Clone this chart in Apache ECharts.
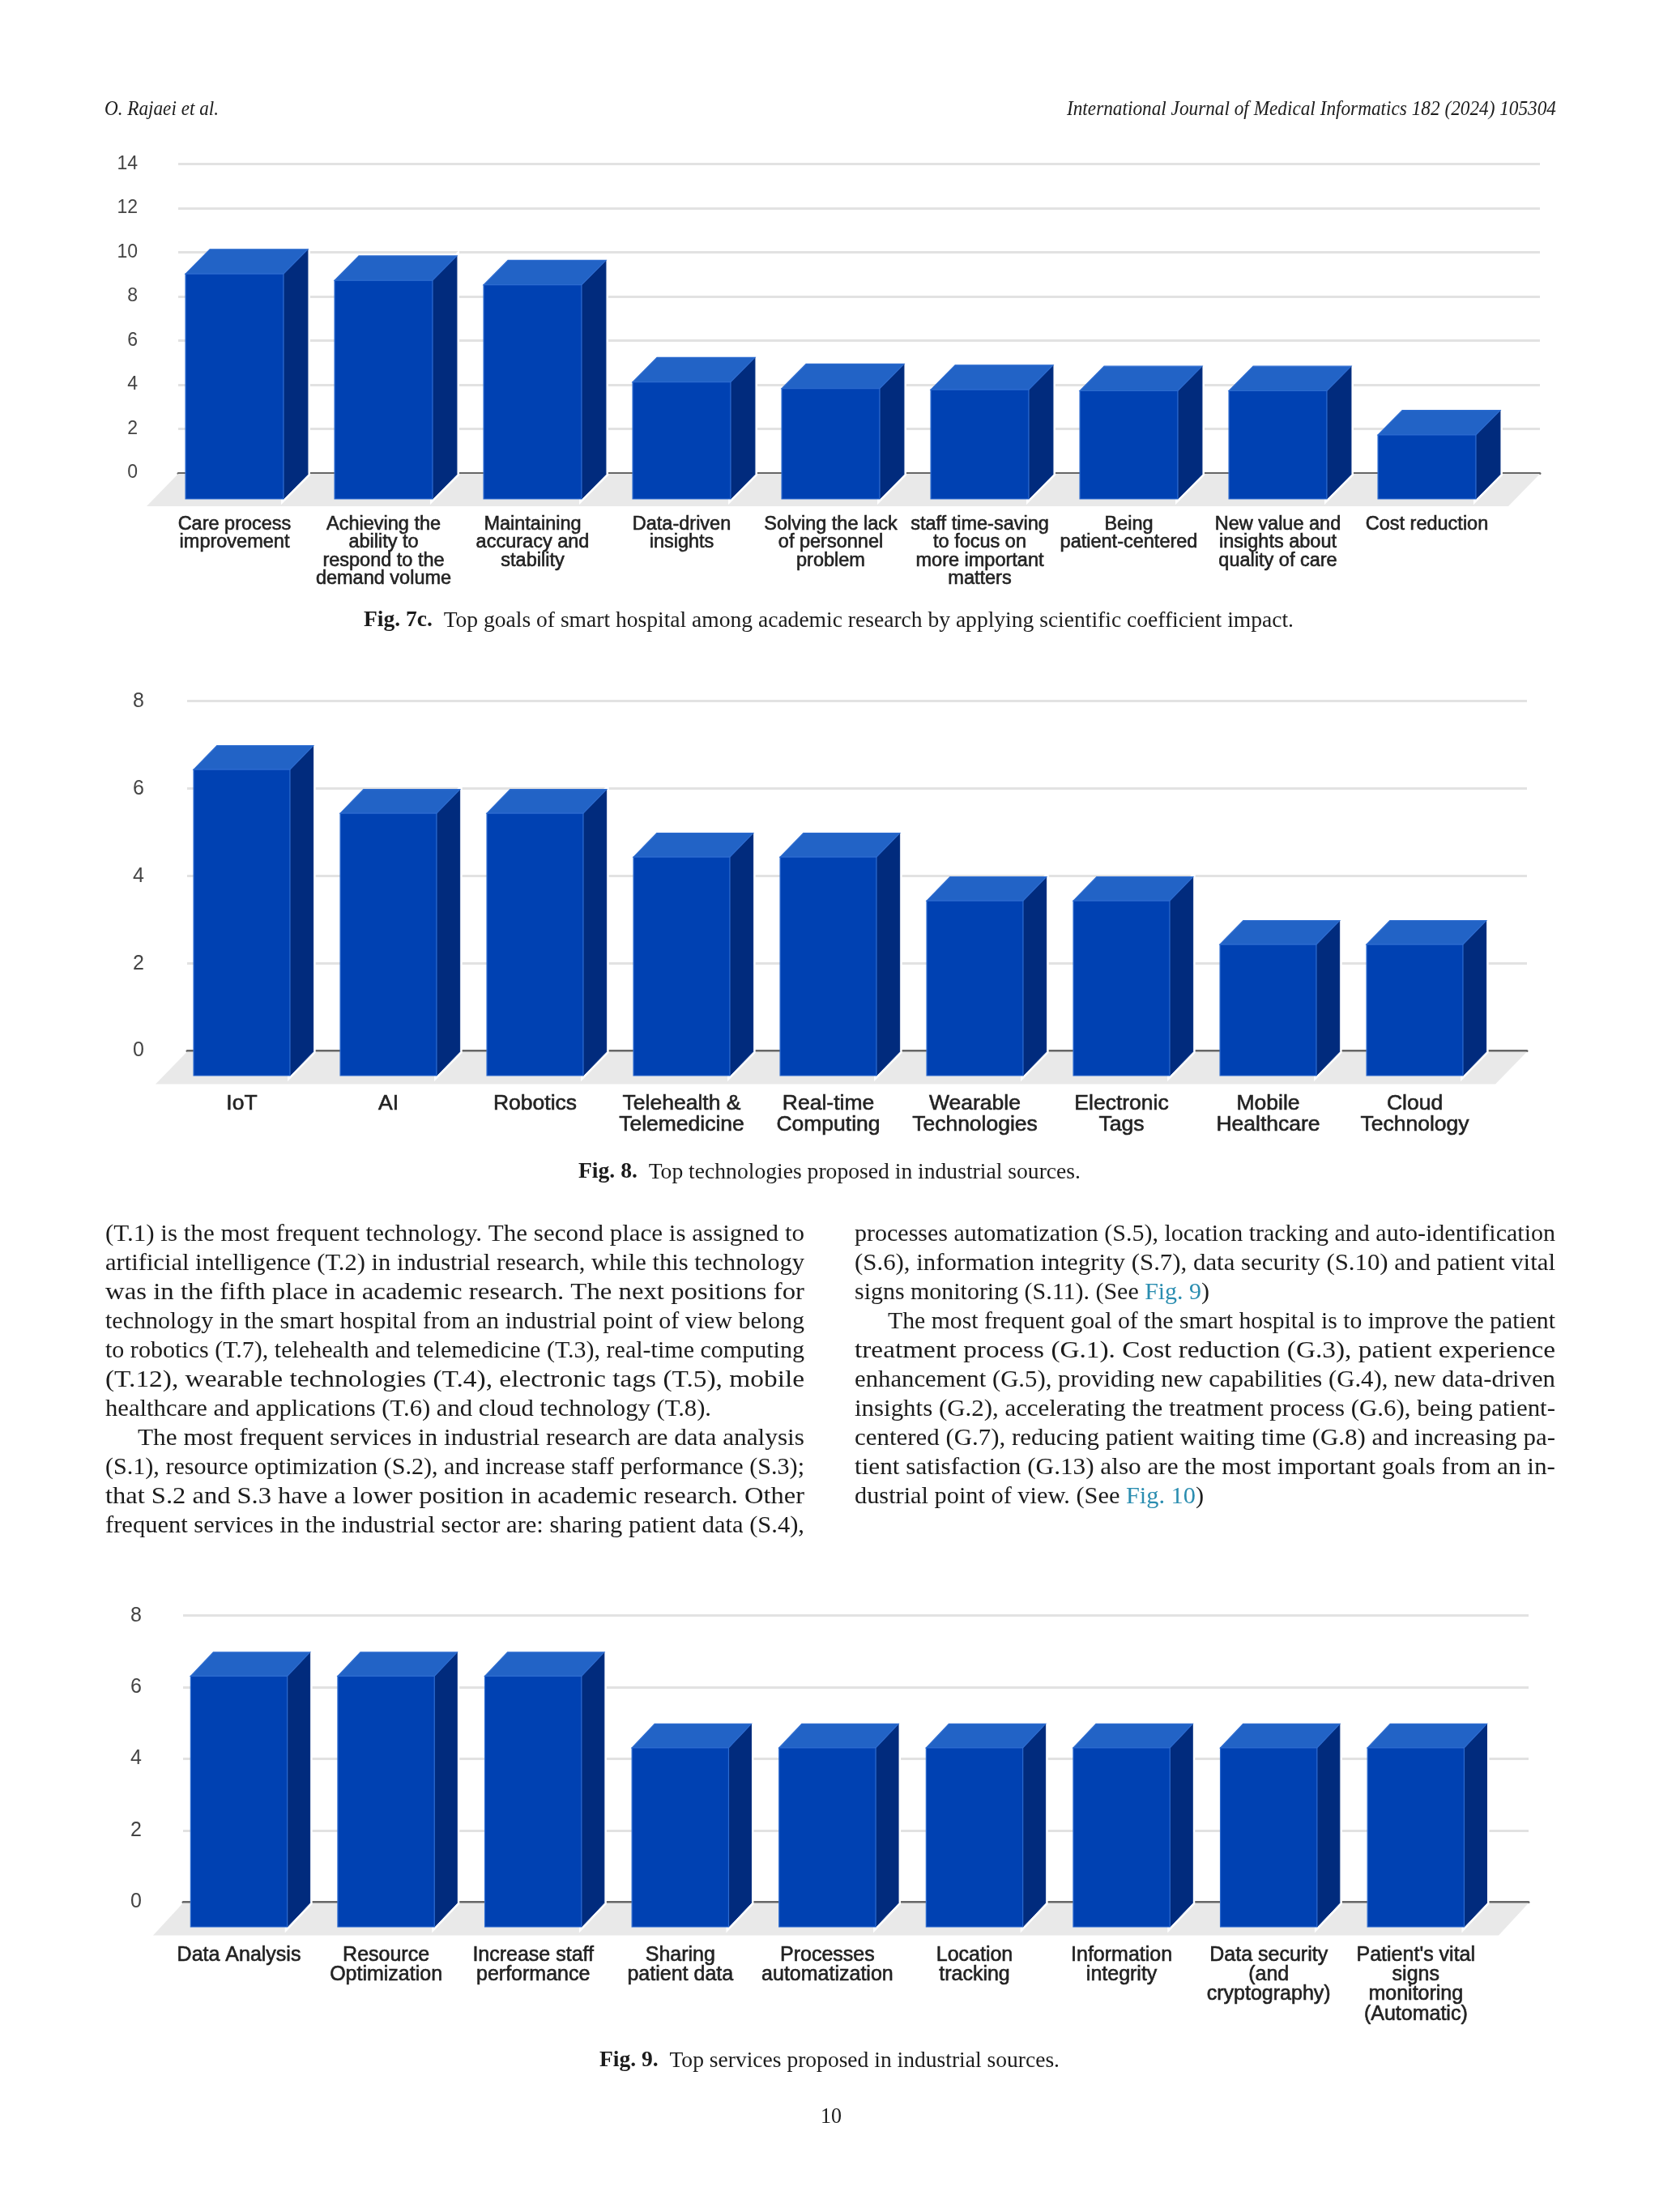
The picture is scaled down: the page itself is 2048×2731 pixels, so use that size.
<!DOCTYPE html>
<html>
<head>
<meta charset="utf-8">
<script src="https://cdn.jsdelivr.net/npm/echarts@6/dist/echarts.min.js"></script>
<style>html,body{margin:0;padding:0;background:#fff}#c{width:2048px;height:2731px}</style>
</head>
<body>
<div id="c"></div>
<script>
const goalCategories = ['Care process\nimprovement','Achieving the\nability to\nrespond to the\ndemand volume','Maintaining\naccuracy and\nstability','Data-driven\ninsights','Solving the lack\nof personnel\nproblem','staff time-saving\nto focus on\nmore important\nmatters','Being\npatient-centered','New value and\ninsights about\nquality of care','Cost reduction'];
const goalValues = [10.2, 9.9, 9.7, 5.3, 5.0, 4.95, 4.9, 4.9, 2.9];
const techCategories = ['IoT','AI','Robotics','Telehealth &\nTelemedicine','Real-time\nComputing','Wearable\nTechnologies','Electronic\nTags','Mobile\nHealthcare','Cloud\nTechnology'];
const techValues = [7, 6, 6, 5, 5, 4, 4, 3, 3];
const serviceCategories = ['Data Analysis','Resource\nOptimization','Increase staff\nperformance','Sharing\npatient data','Processes\nautomatization','Location\ntracking','Information\nintegrity','Data security\n(and\ncryptography)',"Patient's vital\nsigns\nmonitoring\n(Automatic)"];
const serviceValues = [7, 7, 7, 5, 5, 5, 5, 5, 5];

const leftLines = [
 '(T.1) is the most frequent technology. The second place is assigned to',
 'artificial intelligence (T.2) in industrial research, while this technology',
 'was in the fifth place in academic research. The next positions for',
 'technology in the smart hospital from an industrial point of view belong',
 'to robotics (T.7), telehealth and telemedicine (T.3), real-time computing',
 '(T.12), wearable technologies (T.4), electronic tags (T.5), mobile',
 'healthcare and applications (T.6) and cloud technology (T.8).',
 'The most frequent services in industrial research are data analysis',
 '(S.1), resource optimization (S.2), and increase staff performance (S.3);',
 'that S.2 and S.3 have a lower position in academic research. Other',
 'frequent services in the industrial sector are: sharing patient data (S.4),'
];
const rightLines = [
 'processes automatization (S.5), location tracking and auto-identification',
 '(S.6), information integrity (S.7), data security (S.10) and patient vital',
 'signs monitoring (S.11). (See ',
 'The most frequent goal of the smart hospital is to improve the patient',
 'treatment process (G.1). Cost reduction (G.3), patient experience',
 'enhancement (G.5), providing new capabilities (G.4), new data-driven',
 'insights (G.2), accelerating the treatment process (G.6), being patient-',
 'centered (G.7), reducing patient waiting time (G.8) and increasing pa-',
 'tient satisfaction (G.13) also are the most important goals from an in-',
 'dustrial point of view. (See '
];

const SERIF = '"Liberation Serif"';
const SANS = '"Liberation Sans"';
const measureCtx = document.createElement('canvas').getContext('2d');

const segStyles = {
  r: {fontFamily: SERIF, fontSize: 29, fontWeight: 'normal', fontStyle: 'normal', color: '#1c1c1c'},
  l: {fontFamily: SERIF, fontSize: 29, fontWeight: 'normal', fontStyle: 'normal', color: '#2a8db0'},
  b: {fontFamily: SERIF, fontSize: 27, fontWeight: 'bold', fontStyle: 'normal', color: '#1c1c1c'},
  c: {fontFamily: SERIF, fontSize: 27, fontWeight: 'normal', fontStyle: 'normal', color: '#1c1c1c'},
  i: {fontFamily: SERIF, fontSize: 26, fontWeight: 'normal', fontStyle: 'italic', color: '#1c1c1c'}
};
function textEl(segs, x0, x1, y) {
  let w = 0;
  segs.forEach(([t, k]) => {
    const s = segStyles[k];
    measureCtx.font = `${s.fontStyle} ${s.fontWeight} ${s.fontSize}px ${s.fontFamily}`;
    w += measureCtx.measureText(t).width;
  });
  const rich = {};
  Object.keys(segStyles).forEach(k => { rich[k] = {...segStyles[k], fill: segStyles[k].color}; });
  return {
    type: 'text', x: x0, y: y, scaleX: (x1 - x0) / w, silent: true, z: 10,
    style: {
      text: segs.map(([t, k]) => `{${k}|${t}}`).join(''),
      rich: rich, align: 'left', verticalAlign: 'middle',
      font: `26px ${SERIF}`
    }
  };
}

const graphics = [];
graphics.push(textEl([['O. Rajaei et al.', 'i']], 129, 270, 135.5));
graphics.push(textEl([['International Journal of Medical Informatics 182 (2024) 105304', 'i']], 1317, 1921, 135.5));
graphics.push(textEl([['Fig. 7c.', 'b'], ['  Top goals of smart hospital among academic research by applying scientific coefficient impact.', 'c']], 449, 1597, 766.5));
graphics.push(textEl([['Fig. 8.', 'b'], ['  Top technologies proposed in industrial sources.', 'c']], 714, 1334, 1447.5));
graphics.push(textEl([['Fig. 9.', 'b'], ['  Top services proposed in industrial sources.', 'c']], 740, 1308, 2544.5));
graphics.push(textEl([['10', 'c']], 1013, 1039, 2614));

const lineTop = 1524.5, linePitch = 36;
leftLines.forEach((t, i) => {
  const x0 = i === 7 ? 170 : 130;
  const x1 = i === 6 ? 878 : 993;
  graphics.push(textEl([[t, 'r']], x0, x1, lineTop + i * linePitch));
});
rightLines.forEach((t, i) => {
  const x0 = i === 3 ? 1096 : 1055;
  let segs = [[t, 'r']], x1 = 1920;
  if (i === 2) { segs = [[t, 'r'], ['Fig. 9', 'l'], [')', 'r']]; x1 = 1493; }
  if (i === 9) { segs = [[t, 'r'], ['Fig. 10', 'l'], [')', 'r']]; x1 = 1486; }
  graphics.push(textEl(segs, x0, x1, lineTop + i * linePitch));
});

const FRONT = '#0041b2', SIDE = '#012b7d', TOP = '#2263c6', EDGE = '#2c6bd0';
const BAR_RATIO = 0.657;

function barRenderer(dx, dy) {
  return function (params, api) {
    const i = api.value(0), v = api.value(1);
    const b = api.coord([i, 0]), t = api.coord([i, v]);
    const w = api.size([1, 0])[0] * BAR_RATIO;
    const l = b[0] - w / 2, r = b[0] + w / 2, yb = b[1], yt = t[1];
    const sidePts = [[r, yt], [r + dx, yt - dy], [r + dx, yb - dy], [r, yb]];
    const topPts = [[l, yt], [l + dx, yt - dy], [r + dx, yt - dy], [r, yt]];
    const frontPts = [[l, yt], [r, yt], [r, yb], [l, yb]];
    const edge = {stroke: EDGE, lineWidth: 1.2, lineJoin: 'miter'};
    return {
      type: 'group',
      children: [
        {type: 'polygon', shape: {points: sidePts}, style: {fill: '#fff', stroke: '#fff', lineWidth: 6}},
        {type: 'polygon', shape: {points: sidePts}, style: {fill: SIDE, stroke: SIDE, lineWidth: 1}},
        {type: 'polygon', shape: {points: topPts}, style: {fill: TOP, ...edge}},
        {type: 'polygon', shape: {points: frontPts}, style: {fill: FRONT, ...edge}}
      ]
    };
  };
}
function floorRenderer(depthX, depthY) {
  return function (params, api) {
    const c = params.coordSys;
    const y0 = api.coord([0, 0])[1] + 1;
    return {
      type: 'polygon',
      shape: {points: [[c.x, y0], [c.x + c.width, y0], [c.x + c.width - depthX, y0 + depthY], [c.x - depthX, y0 + depthY]]},
      style: {fill: '#e9e9e9'}
    };
  };
}

const charts = [
  {cats: goalCategories, vals: goalValues, max: 14, back: [220, 1901, 202.5, 584], frontBottom: 616,
   center1: 289.5, spacing: 184, dx: 30, dy: 30.3, floor: [39, 40], label: {size: 23.5, lh: 22.3, margin: 20.5}, yRight: 170, yFont: 23},
  {cats: techCategories, vals: techValues, max: 8, back: [231, 1885, 865.7, 1297.6], frontBottom: 1328,
   center1: 298.5, spacing: 181, dx: 28.7, dy: 29.4, floor: [39, 40], label: {size: 26.5, lh: 25.5, margin: 22}, yRight: 178, yFont: 25},
  {cats: serviceCategories, vals: serviceValues, max: 8, back: [226, 1887, 1994.7, 2348.5], frontBottom: 2379,
   center1: 295, spacing: 181.6, dx: 28, dy: 29.5, floor: [37, 40], label: {size: 25, lh: 24.2, margin: 23}, yRight: 175, yFont: 25}
];

const grid = [], xAxis = [], yAxis = [], series = [];
charts.forEach((ch) => {
  const [bl, br, bt, bb] = ch.back;
  const backIdx = grid.length;
  grid.push({left: bl, top: bt, width: br - bl, height: bb - bt});
  xAxis.push({type: 'category', gridIndex: backIdx, data: ch.cats.map((_, i) => i),
    axisLine: {show: true, lineStyle: {color: '#666', width: 3}}, axisTick: {show: false}, axisLabel: {show: false}});
  yAxis.push({type: 'value', gridIndex: backIdx, min: 0, max: ch.max, interval: 2,
    axisLine: {show: false}, axisTick: {show: false},
    splitLine: {show: true, lineStyle: {color: '#e2e2e2', width: 3}},
    axisLabel: {fontFamily: SANS, fontSize: ch.yFont, color: '#444', margin: bl - ch.yRight}});
  const frontIdx = grid.length;
  const unit = (bb - bt) / ch.max;
  const frontTop = ch.frontBottom - unit * ch.max;
  grid.push({left: ch.center1 - ch.spacing / 2, top: frontTop, width: ch.spacing * 9, height: ch.frontBottom - frontTop});
  xAxis.push({type: 'category', gridIndex: frontIdx, data: ch.cats,
    axisLine: {show: false}, axisTick: {show: false},
    axisLabel: {interval: 0, margin: ch.label.margin, fontFamily: SANS, fontSize: ch.label.size, lineHeight: ch.label.lh,
      color: '#222', textBorderColor: '#222', textBorderWidth: 0.6, verticalAlign: 'top', hideOverlap: false}});
  yAxis.push({type: 'value', gridIndex: frontIdx, min: 0, max: ch.max, interval: 2, show: false, splitLine: {show: false}});
  series.push({type: 'custom', name: 'floor', xAxisIndex: backIdx, yAxisIndex: backIdx, z: 1, silent: true,
    data: [[0, 0]], renderItem: floorRenderer(ch.floor[0], ch.floor[1]), encode: {x: 0, y: 1}});
  series.push({type: 'custom', name: 'bars', xAxisIndex: frontIdx, yAxisIndex: frontIdx, z: 3, silent: true,
    data: ch.vals.map((v, i) => [i, v]), renderItem: barRenderer(ch.dx, ch.dy), encode: {x: 0, y: 1}});
});

const chart = echarts.init(document.getElementById('c'), null, {renderer: 'canvas', width: 2048, height: 2731});
chart.setOption({backgroundColor: '#fff', animation: false, grid, xAxis, yAxis, series, graphic: graphics});
</script>
</body>
</html>
